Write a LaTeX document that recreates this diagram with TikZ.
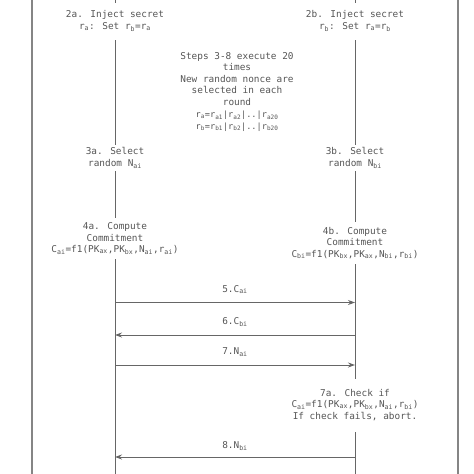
\documentclass[tikz,border=0pt]{standalone}
\usepackage{fontspec}
\setmainfont{DejaVu Sans Mono}
\usetikzlibrary{arrows.meta}
\definecolor{ink}{HTML}{555555}
\definecolor{wire}{HTML}{666666}
\newcommand{\sbx}[1]{\textsubscript{#1}}
\tikzset{
  lbl/.style={text=ink, font=\fontsize{9.4}{11.5}\selectfont, align=center, inner sep=0pt},
  life/.style={draw=wire, line width=0.9pt},
  msg/.style={draw=wire, line width=0.9pt, -{Stealth[length=7pt,width=5pt]}},
  frame/.style={draw=wire!80, line width=1.1pt}
}
\begin{document}
\begin{tikzpicture}[x=1pt,y=-1pt]
\useasboundingbox (0,0) rectangle (474,474);
% frame lines
\coordinate (fl1) at (32,0); \coordinate (fl2) at (32,474);
\coordinate (fr1) at (458,0); \coordinate (fr2) at (458,474);
\draw[frame] (fl1) -- (fl2);
\draw[frame] (fr1) -- (fr2);
% labels
\node[lbl] (t2a) at (115,21) {2a. Inject secret\\r\sbx{a}: Set r\sbx{b}=r\sbx{a}};
\node[lbl] (t2b) at (355,21) {2b. Inject secret\\r\sbx{b}: Set r\sbx{a}=r\sbx{b}};
\node[lbl] (steps) at (237,92) {Steps 3-8 execute 20\\times\\New random nonce are\\selected in each\\round\\[1pt]
{\fontsize{8.6}{11.5}\selectfont r\sbx{a}=r\sbx{a1}|r\sbx{a2}|..|r\sbx{a20}}\\
{\fontsize{8.6}{11.5}\selectfont r\sbx{b}=r\sbx{b1}|r\sbx{b2}|..|r\sbx{b20}}};
\node[lbl] (t3a) at (115,158) {3a. Select\\random N\sbx{ai}};
\node[lbl] (t3b) at (355,158) {3b. Select\\random N\sbx{bi}};
\node[lbl] (t4a) at (115,239) {4a. Compute\\Commitment\\C\sbx{ai}=f1(PK\sbx{ax},PK\sbx{bx},N\sbx{ai},r\sbx{ai})};
\node[lbl] (t4b) at (355,243) {4b. Compute\\Commitment\\C\sbx{bi}=f1(PK\sbx{bx},PK\sbx{ax},N\sbx{bi},r\sbx{bi})};
\node[lbl] (t7a) at (355,405) {7a. Check if\\C\sbx{ai}=f1(PK\sbx{ax},PK\sbx{bx},N\sbx{ai},r\sbx{bi})\\If check fails, abort.};
% lifeline coordinates
\coordinate (lt0) at (115,0); \coordinate (lt1) at (115,3);
\coordinate (rt0) at (355,0); \coordinate (rt1) at (355,3);
\coordinate (la1) at (115,40); \coordinate (la2) at (115,145);
\coordinate (la3) at (115,171); \coordinate (la4) at (115,218);
\coordinate (la5) at (115,259); \coordinate (la6) at (115,474);
\coordinate (ra1) at (355,40); \coordinate (ra2) at (355,145);
\coordinate (ra3) at (355,171); \coordinate (ra4) at (355,222);
\coordinate (ra5) at (355,264); \coordinate (ra6) at (355,379);
\coordinate (ra7) at (355,432); \coordinate (ra8) at (355,474);
\draw[life] (lt0) -- (lt1);
\draw[life] (rt0) -- (rt1);
\draw[life] (la1) -- (la2);
\draw[life] (la3) -- (la4);
\draw[life] (la5) -- (la6);
\draw[life] (ra1) -- (ra2);
\draw[life] (ra3) -- (ra4);
\draw[life] (ra5) -- (ra6);
\draw[life] (ra7) -- (ra8);
% messages
\coordinate (m5a) at (115,302.5); \coordinate (m5b) at (355,302.5);
\coordinate (m6a) at (115,335); \coordinate (m6b) at (355,335);
\coordinate (m7a) at (115,365); \coordinate (m7b) at (355,365);
\coordinate (m8a) at (115,457); \coordinate (m8b) at (355,457);
\draw[msg] (m5a) -- node[lbl, above=8pt] (l5) {5.C\sbx{ai}} (m5b);
\draw[msg] (m6b) -- node[lbl, above=8pt] (l6) {6.C\sbx{bi}} (m6a);
\draw[msg] (m7a) -- node[lbl, above=8pt] (l7) {7.N\sbx{ai}} (m7b);
\draw[msg] (m8b) -- node[lbl, above=6pt] (l8) {8.N\sbx{bi}} (m8a);
\end{tikzpicture}
\end{document}
